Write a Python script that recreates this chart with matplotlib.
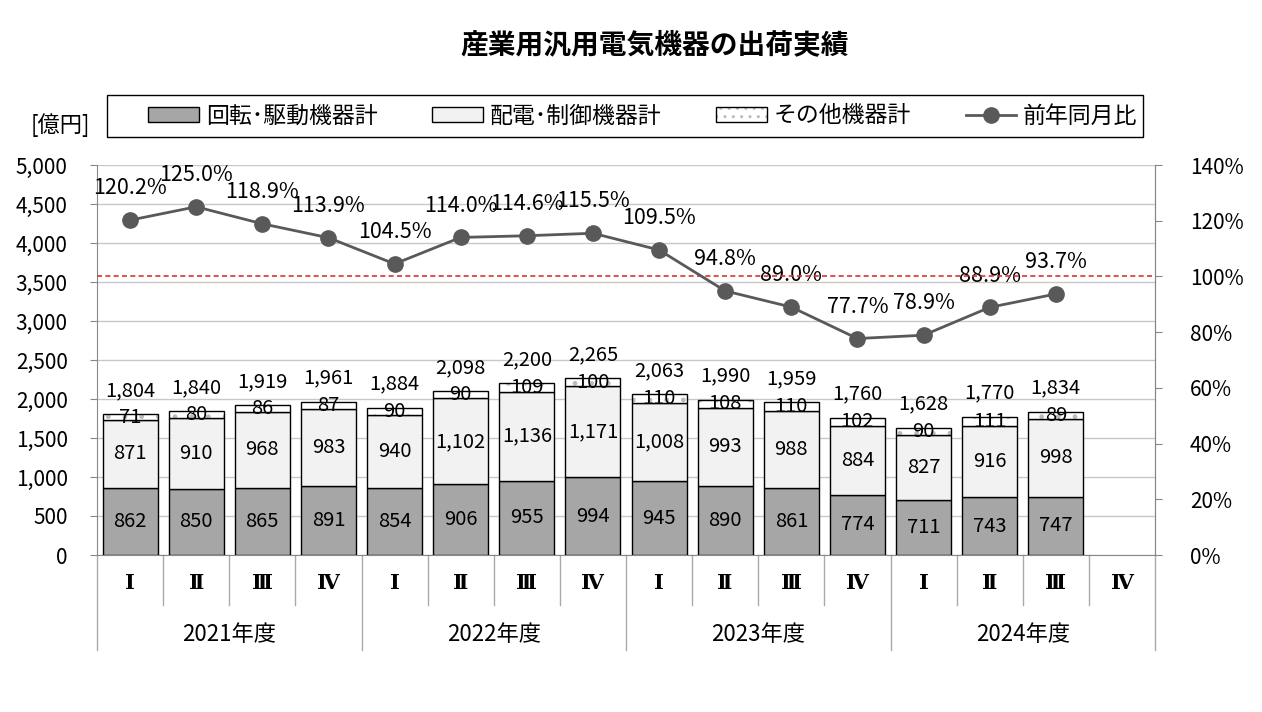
import matplotlib
matplotlib.use('Agg')
import matplotlib.pyplot as plt
import matplotlib.transforms as mtransforms
from matplotlib.patches import Patch, Rectangle
from matplotlib.lines import Line2D
from matplotlib.ticker import FuncFormatter
import numpy as np

plt.rcParams['font.family'] = ['Noto Sans CJK JP', 'DejaVu Sans']

# data
quarters = ['Ⅰ', 'Ⅱ', 'Ⅲ', 'Ⅳ'] * 4
years = ['2021年度', '2022年度', '2023年度', '2024年度']
rotating = [862, 850, 865, 891, 854, 906, 955, 994, 945, 890, 861, 774, 711, 743, 747]
distribution = [871, 910, 968, 983, 940, 1102, 1136, 1171, 1008, 993, 988, 884, 827, 916, 998]
others = [71, 80, 86, 87, 90, 90, 109, 100, 110, 108, 110, 102, 90, 111, 89]
totals = [1804, 1840, 1919, 1961, 1884, 2098, 2200, 2265, 2063, 1990, 1959, 1760, 1628, 1770, 1834]
yoy = [120.2, 125.0, 118.9, 113.9, 104.5, 114.0, 114.6, 115.5, 109.5, 94.8, 89.0, 77.7, 78.9, 88.9, 93.7]

fig = plt.figure(figsize=(12.62, 7.12), dpi=100)
ax = fig.add_axes([97/1262, 1-555/712, (1155-97)/1262, 390/712])
ax2 = ax.twinx()

x = np.arange(len(rotating))
rot = np.array(rotating)
dist = np.array(distribution)
oth = np.array(others)
w = 0.83

ax.bar(x, rot, w, color='#a6a6a6', edgecolor='black', linewidth=1, zorder=3)
ax.bar(x, dist, w, bottom=rot, color='#f2f2f2', edgecolor='black', linewidth=1, zorder=3)
ax.bar(x, oth, w, bottom=rot + dist, color='white', edgecolor='#bbbbbb', hatch='.', linewidth=0, zorder=3)
ax.bar(x, oth, w, bottom=rot + dist, color='none', edgecolor='black', linewidth=1, zorder=3)

fs = 14.5
for i in x:
    ax.text(i, rot[i] / 2, f'{rot[i]:,}', ha='center', va='center', fontsize=fs, zorder=5)
    ax.text(i, rot[i] + dist[i] / 2, f'{dist[i]:,}', ha='center', va='center', fontsize=fs, zorder=5)
    ax.text(i, rot[i] + dist[i] + oth[i] / 2, f'{oth[i]:,}', ha='center', va='center', fontsize=fs, zorder=5)
    ax.text(i, totals[i] + 170, f'{totals[i]:,}', ha='center', va='bottom', fontsize=fs, zorder=5)

ax.set_xlim(-0.5, 15.5)
ax.set_ylim(0, 5000)
ax.set_yticks(np.arange(0, 5001, 500))
ax.yaxis.set_major_formatter(FuncFormatter(lambda v, p: f'{int(v):,}'))
ax.tick_params(axis='y', labelsize=15, length=5, color='#888888', direction='out', pad=16)
ax.set_xticks([])
ax.grid(axis='y', color='#c8c8c8', linewidth=1, zorder=0)
ax.spines['top'].set_visible(False)
for s in ['left', 'bottom', 'right']:
    ax.spines[s].set_color('#888888')

ax2.plot(x, yoy, color='#595959', linewidth=2, marker='o', markersize=11, zorder=6)
ax2.axhline(100, color='#e03030', linestyle=(0, (3, 2)), linewidth=1.2, zorder=4)
for i, v in enumerate(yoy):
    ax2.annotate(f'{v:.1f}%', (i, v), xytext=(0, 15), textcoords='offset points',
                 ha='center', va='bottom', fontsize=15.5)
ax2.set_ylim(0, 140)
ax2.set_yticks(np.arange(0, 141, 20))
ax2.yaxis.set_major_formatter(FuncFormatter(lambda v, p: f'{int(v)}%'))
ax2.tick_params(axis='y', labelsize=15, length=5, color='#888888', pad=20)
ax2.spines['top'].set_visible(False)
ax2.spines['right'].set_color('#888888')
ax2.spines['left'].set_visible(False)
ax2.spines['bottom'].set_visible(False)

# category axis drawn below the plot
trans = mtransforms.blended_transform_factory(ax.transData, ax.transAxes)
for k in range(17):
    bottom = -0.244 if k % 4 == 0 else -0.128
    ax.plot([k - 0.5, k - 0.5], [0, bottom], color='#aaaaaa', linewidth=1,
            transform=trans, clip_on=False)
for i, q in enumerate(quarters):
    ax.text(i, -0.072, q, transform=trans, ha='center', va='center', fontsize=15,
            family=['DejaVu Serif'], fontweight='bold')
for j, y in enumerate(years):
    ax.text(4 * j + 1.5, -0.203, y, transform=trans, ha='center', va='center', fontsize=16)

fig.text(655/1262, 1 - 45/712, '産業用汎用電気機器の出荷実績', ha='center', va='center',
         fontsize=20, fontweight='bold')
fig.text(60/1262, 1 - 125/712, '[億円]', ha='center', va='center', fontsize=16)

# legend frame drawn separately
fig.patches.append(Rectangle((107/1262, 1 - 137/712), (1143-107)/1262, 42/712,
                             transform=fig.transFigure, facecolor='white',
                             edgecolor='black', linewidth=1))
dots = (Patch(facecolor='white', edgecolor='#bbbbbb', hatch='..', linewidth=0),
        Patch(facecolor='none', edgecolor='black'))
handles = [
    Patch(facecolor='#a6a6a6', edgecolor='black'),
    Patch(facecolor='#f2f2f2', edgecolor='black'),
    dots,
    Line2D([0], [0], color='#595959', linewidth=2, marker='o', markersize=11),
]
labels = ['回転･駆動機器計', '配電･制御機器計', 'その他機器計', '前年同月比']
leg = fig.legend(handles, labels, loc='center', bbox_to_anchor=(643/1262, 1 - 116/712),
                 ncol=4, fontsize=16.5, frameon=False,
                 columnspacing=2.4, handlelength=2.2, handleheight=0.65,
                 handletextpad=0.3)

fig.savefig('out.png', dpi=100)
